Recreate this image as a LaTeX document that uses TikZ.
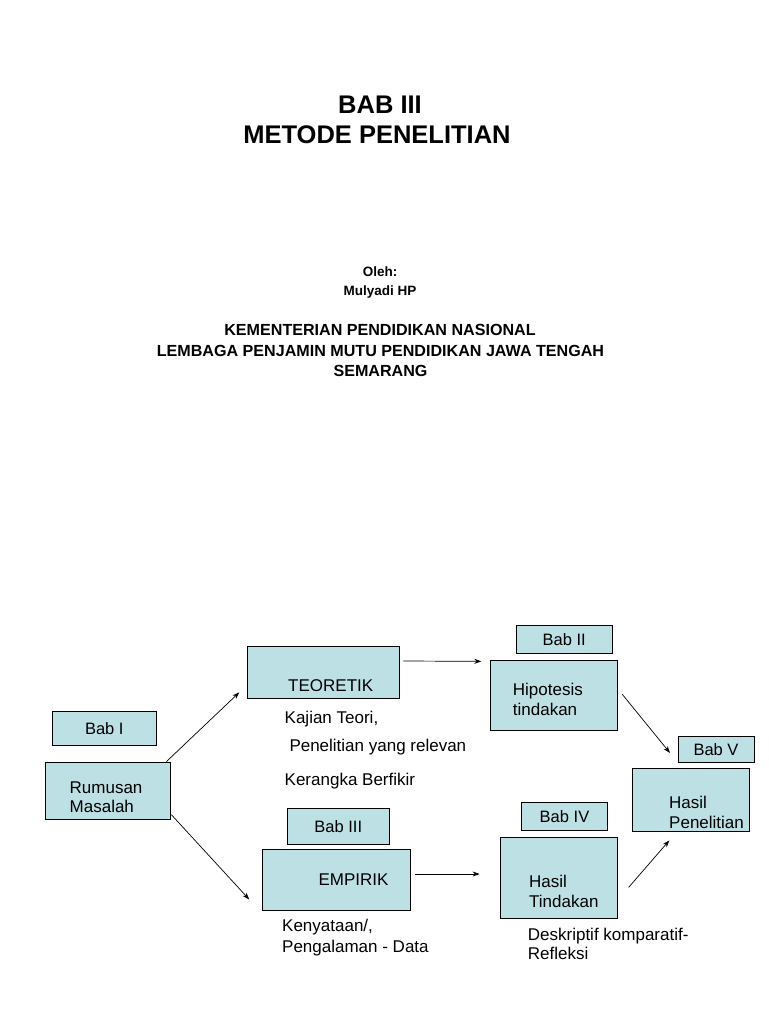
\documentclass[tikz,border=0pt]{standalone}
\usepackage{fontspec}
\setmainfont{Liberation Sans}
\usetikzlibrary{arrows.meta}
\definecolor{boxfill}{RGB}{189,224,228}
\begin{document}
\begin{tikzpicture}[x=1pt,y=-1pt,
  box/.style={draw=black, line width=0.8pt, fill=boxfill, rectangle, inner sep=0pt,
              font=\fontsize{16.5}{19}\selectfont},
  txt/.style={inner sep=0pt, anchor=base west, font=\fontsize{17}{20}\selectfont},
  head/.style={inner sep=0pt, anchor=base, font=\bfseries\fontsize{16.1}{19}\selectfont},
  title/.style={inner sep=0pt, anchor=base, font=\bfseries\fontsize{25.5}{30}\selectfont},
  small/.style={inner sep=0pt, anchor=base, font=\bfseries\fontsize{13.5}{16}\selectfont},
  arr/.style={-{Stealth[length=7pt,width=5pt]}, line width=0.7pt, black}]
\useasboundingbox[fill=white] (0,0) rectangle (768,1024);

% heading
\node[title] (t1) at (380,113.3) {BAB III};
\node[title] (t2) at (377,143.3) {METODE PENELITIAN};
\node[small] (oleh) at (380,276.7) {Oleh:};
\node[small] (nama) at (380,295) {Mulyadi HP};
\node[head] (h1) at (380,335) {KEMENTERIAN PENDIDIKAN NASIONAL};
\node[head] (h2) at (380.5,356.7) {LEMBAGA PENJAMIN MUTU PENDIDIKAN JAWA TENGAH};
\node[head] (h3) at (380.5,376.7) {SEMARANG};

% boxes
\node[box, minimum width=103.3pt, minimum height=33.3pt] (babI) at (104.3,728.3) {Bab I};
\node[box, minimum width=125pt, minimum height=57pt] (rum) at (107.5,790.5) {};
\node[box, minimum width=151.7pt, minimum height=51.6pt] (teo) at (323.2,672.5) {};
\node[box, minimum width=102pt, minimum height=36pt] (babIII) at (338.3,826.3) {Bab III};
\node[box, minimum width=147.7pt, minimum height=60.7pt] (emp) at (336.2,879.7) {};
\node[box, minimum width=96.3pt, minimum height=28.3pt] (babII) at (564.2,639.2) {Bab II};
\node[box, minimum width=127pt, minimum height=69.3pt] (hip) at (554.2,695.4) {};
\node[box, minimum width=76pt, minimum height=26pt] (babV) at (716,749.5) {Bab V};
\node[box, minimum width=117.3pt, minimum height=63.7pt] (hp) at (690.7,799.9) {};
\node[box, minimum width=85.6pt, minimum height=28pt] (babIV) at (564.5,816.7) {Bab IV};
\node[box, minimum width=116.6pt, minimum height=81pt] (ht) at (559,877.8) {};

% texts inside boxes
\node[txt] (rum1) at (69.5,793) {Rumusan};
\node[txt] (rum2) at (69.5,812) {Masalah};
\node[txt] (teo1) at (288,691) {TEORETIK};
\node[txt] (emp1) at (318.3,885) {EMPIRIK};
\node[txt] (hip1) at (512.7,695) {Hipotesis};
\node[txt] (hip2) at (512.7,715) {tindakan};
\node[txt] (hp1) at (669,808) {Hasil};
\node[txt] (hp2) at (669,828) {Penelitian};
\node[txt] (ht1) at (529,887) {Hasil};
\node[txt] (ht2) at (529,907) {Tindakan};

% free texts
\node[txt] (k1) at (284.5,723.3) {Kajian Teori,};
\node[txt] (k2) at (289.3,751.7) {Penelitian yang relevan};
\node[txt] (k3) at (284.5,785) {Kerangka Berfikir};
\node[txt] (e1) at (282,931.7) {Kenyataan/,};
\node[txt] (e2) at (282,952.7) {Pengalaman - Data};
\node[txt] (d1) at (527.7,940) {Deskriptif komparatif-};
\node[txt] (d2) at (527.7,959.3) {Refleksi};

% connectors
\draw[arr] ([xshift=-4pt]rum.north east) -- ([xshift=-7.7pt,yshift=6.3pt]teo.south west);
\draw[arr] ([xshift=1pt,yshift=4.7pt]rum.south east) -- ([xshift=-12.7pt,yshift=11pt]emp.south west);
\draw[arr] ([xshift=4pt,yshift=-14.7pt]teo.north east) -- ([xshift=-9pt,yshift=-1pt]hip.north west);
\draw[arr] ([xshift=4.3pt,yshift=5.7pt]emp.east) -- ([xshift=-20.7pt,yshift=3.8pt]ht.west);
\draw[arr] ([xshift=4pt,yshift=1.3pt]hip.east) -- ([xshift=-20.7pt,yshift=14.7pt]hp.north);
\draw[arr] ([xshift=11pt,yshift=-9.5pt]ht.east) -- ([xshift=-21.4pt,yshift=-8.3pt]hp.south);
\end{tikzpicture}
\end{document}
